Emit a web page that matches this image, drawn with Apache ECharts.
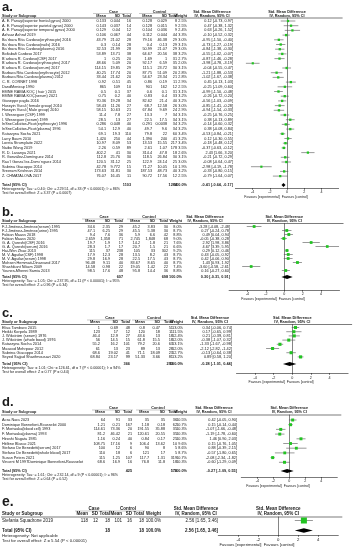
<!DOCTYPE html>
<html><head><meta charset="utf-8">
<script src="https://cdn.jsdelivr.net/npm/echarts@6/dist/echarts.min.js"></script>
<style>html,body{margin:0;padding:0;background:#fff}#c{width:357px;height:550px}</style>
</head><body><div id="c"></div>
<script>
// ---------- Panel a ----------
const aStudy = ["A. E. Panayi(superior frontal gyrus) 2000","A. E. Panayi(superior parietal gyrus) 2000","A. E. Panayi(superior temporal gyrus) 2000","Azhaar Ashraf 2019","Ba´rbara Rita Cardoso(erythrocyte) 2016","Ba´rbara Rita Cardoso(nails) 2016","Ba´rbara Rita Cardoso(plasma) 2016","Boltabafi Cardoso 2017","B´arbara R. Cardoso(CSF) 2017","B´arbara R. Cardoso(erythrocytes) 2017","B´arbara R. Cardoso(serum) 2017","Barbara Rita Cardoso(erythrocyte) 2012","Barbara Rita Cardoso(plasma) 2012","C. R. CORNET 1998","DandMenirap 1990","EMNE RABIA KOÇ ( hair ) 2015","EMNE RABIA KOÇ(serum) 2021","Giuseppe paglia 2016","Huseyin Vural ( female group) 2010","Huseyin Vural ( Male group) 2010","I. Wesseguer (CSF) 1999","I. Wesseguer (serum) 1999","InSneCollattos-Picot(erythrocyte) 1996","InSneCollattos-Picot(plasma) 1996","Katarzyna Socha 2021","Larry Baum 2010","Loreta Strumylaite 2022","Naibo Wang 2019","R. D. Lasanya 2021","R. González-Domínguez 2014","Rau´l Gonza´lez-Domı´nguez 2014","Sabrina Giacoppo 2014","Sreeram Krishnan 2014","Z. CHMATALOVA 2017"];
const aCaseMean = ["0.133","0.143","0.129","0.106","43.79","0.3","32.53","53.89","1","48.66","114.15","40.25","33.44","0.92","865","0.5","0.75","70.36","58.43","58.15","11.4","28.5","0.286","54.1","69.1","1,420","10.97","2.26","402.2","112.8","120.5","42.78","173.63","76.07"];
const aCaseSD = ["0.044","0.037","0.04","0.067","21.02","0.14","21.99","13.71","0.25","5.09","19.85","17.74","21.62","0.51","109","0.1","0.2","19.28","11.26","10.63","7.8","13","0.048","12.9","19.3","250","8.09","0.59","41","25.76","31.12","9.772","31.81","16.45"];
const aCaseN = [16,14,12,44,28,28,28,38,20,20,29,20,20,45,10,37,40,34,27,21,27,27,40,40,110,44,53,89,30,30,25,15,30,11];
const aCtrlMean = ["0.128","0.128","0.104","0.112","79.16","0.4","50.99","64.67","1.69","92.17","115.1","87.75","54.67","0.86","901","0.6","0.83","82.62","68.7","67.84","13.3","22.5","0.291","49.7","79.8","1,390","13.53","2.61","314.4","118.5","122.9","71.27","187.53","90.72"];
const aCtrlSD = ["0.029","0.015","0.036","0.044","46.38","0.13","21.07","20.56","1","6.59","23.72","51.09","23.34","0.19","162","0.1","0.4","21.4","12.58","9.69","7","17.5","0.0038","9.6","22","240","15.55","1.07","47.8","26.84","24.14","10.05","48.73","17.56"];
const aCtrlN = [8,9,9,44,29,29,29,38,31,35,30,20,21,11,12,31,33,40,26,24,34,34,34,34,60,41,217,178,18,30,25,10,40,12];
const aWeight = [2.5,2.5,2.4,3.3,3.0,3.1,3.0,3.2,2.7,2.0,3.1,2.8,2.8,2.9,2.5,3.1,3.2,3.2,3.0,2.9,3.1,3.1,3.2,3.2,3.4,3.2,3.4,3.5,2.6,3.1,3.0,1.9,3.2,2.5];
const aSMD = [0.12,0.47,0.63,-0.10,-0.95,-0.73,-0.84,-0.55,-0.87,-3.98,-0.04,-1.21,-1.02,0.45,-0.25,-0.99,-0.26,-0.56,-0.85,-0.94,-0.25,0.38,-0.14,0.38,-0.53,0.12,-0.18,-0.37,2.43,-0.21,-0.08,-2.98,-0.33,-0.79];
const aLo = [-0.73,-0.38,-0.26,-0.52,-1.50,-1.27,-1.38,-1.02,-1.46,-4.78,-0.55,-1.88,-1.67,-0.13,-1.09,-1.50,-0.72,-1.03,-1.41,-1.54,-0.76,-0.13,-0.60,-0.08,-0.84,-0.30,-0.48,-0.63,1.66,-0.72,-0.64,-4.19,-0.80,-1.64];
const aHi = [0.97,1.32,1.52,0.32,-0.40,-0.19,-0.30,-0.07,-0.28,-3.19,0.47,-0.53,-0.38,1.03,0.60,-0.48,0.20,-0.09,-0.28,-0.33,0.25,0.89,0.32,0.84,-0.21,0.55,0.12,-0.12,3.20,0.29,0.47,-1.78,0.15,0.07];
const aTotal = [1103,1284,-0.41,-0.64,-0.17];
const aHet = "Heterogeneity: Tau² = 0.40; Chi² = 229.51, df = 33 (P < 0.00001); I² = 86%";
const aTest = "Test for overall effect: Z = 3.37 (P = 0.0007)";

// ---------- Panel b ----------
const bStudy = ["F.J.Jiménez-Jiménez(serum) 1995","F.J.Jiménez-Jiménez(urine) 1995","Fabian Maass 2018","Fabian Maass 2020","G. A. Qureshi(CSF) 2016","G. A. Qureshi(serum) 2016","Hai-Wen Zhao 2013","M. V. Aguilar(CSF) 1998","M. V. Aguilar(serum) 1998","Mohsen Hemmati-Dinarvand 2017","Shashikant Nikam 2009","Younes-Mhenni Samia 2013"];
const bCaseMean = ["34.6","47.1","9.4","2,659","19.7","28.3","115","17.9","29.8","96.48","14.58","98.5"];
const bCaseSD = ["2.35","6.25","7.6","1,358","1.9","1.7","37","12.3","16.9","9.11","0.98","17.6"];
const bCaseN = [29,29,36,71,17,17,238,28,28,40,22,48];
const bCtrlMean = ["45.2","45.5","5.9","2,745","14.2","20.7","105","13.5","22.5","83.67","19.05","95.8"];
const bCtrlSD = ["3.83","5.38","6.6","1,848","1.8","1.5","33","8.2","17.5","8.65","1.42","14.4"];
const bCtrlN = [30,30,42,68,21,21,302,43,43,40,22,36];
const bWeight = [8.0,8.7,8.8,9.0,7.6,6.6,9.2,8.7,8.7,8.7,7.4,8.8];
const bSMD = [-3.28,0.27,0.49,-0.05,2.92,4.67,0.29,0.43,0.42,1.43,-3.60,0.16];
const bLo = [-4.08,-0.24,0.04,-0.38,1.98,3.39,0.12,-0.05,-0.06,0.93,-4.58,-0.27];
const bHi = [-2.48,0.78,0.94,0.28,3.86,5.95,0.46,0.92,0.90,1.92,-2.61,0.60];
const bTotal = [607,698,0.30,-0.31,0.91];
const bHet = "Heterogeneity: Tau² = 1.05; Chi² = 237.95, df = 11 (P < 0.00001); I² = 95%";
const bTest = "Test for overall effect: Z = 0.96 (P = 0.34)";

// ---------- Panel c ----------
const cStudy = ["Elisa Tamburo 2015","Heikki Korpela 1989","J. Wikström (serum) 1976","J. Wikström (whole bood) 1976","Katarzyna Socha 2014","Masood Mehrpour 2012","Sabrina Giacoppo 2014","Seyed Sajjad Sharifmousavi 2020"];
const cCaseMean = ["1","123","46.4","56","55.2","61","68.6","68.84"];
const cCaseSD = ["0.69","17","12.9","14.5","16.2","13","19.02","23.17"];
const cCaseN = [48,12,27,15,101,23,41,99];
const cCtrlMean = ["0.8","120","43.6","61.8","79.2","89","71.1","51.33"];
const cCtrlSD = ["0.47","18","13","15.5","20.6","13","18.09","3.66"];
const cCtrlN = [51,11,18,18,63,28,23,81];
const cWeight = [13.0,11.5,12.4,12.0,13.1,12.0,12.7,13.2];
const cSMD = [0.34,0.17,0.21,-0.38,-1.33,-2.12,-0.13,0.89];
const cLo = [-0.06,-0.65,-0.39,-1.07,-1.67,-2.82,-0.64,0.58];
const cHi = [0.74,0.99,0.81,0.32,-0.98,-1.42,0.38,1.20];
const cTotal = [366,293,-0.28,-1.01,0.44];
const cHet = "Heterogeneity: Tau² = 1.01; Chi² = 126.61, df = 7 (P < 0.00001); I² = 94%";
const cTest = "Test for overall effect: Z = 0.77 (P = 0.44)";

// ---------- Panel d ----------
const dStudy = ["Acsa Nara 2023","Dominique Bonnefont-Rousselot 2000","F. Moriwaka(blood cell) 1993","F. Moriwaka(plasma) 1993","Hiroshi Nagata 1985","Hélène Blasco 2021","Stefano De Benedetti(serum) 2017","Stefano De Benedetti(whole blood) 2017","Susan Peters 2021","Vincent M 1997Dominique Bonnefont-Rousselot"];
const dCaseMean = ["64","1.21","114.61","81.2","1.16","108.75","100","110","115","68.6"];
const dCaseSD = ["91","0.21","73.36","46.42","0.24","17.16","12","18","1.25","16.9"];
const dCaseN = [33,167,20,21,40,9,6,6,107,16];
const dCtrlMean = ["35","1.18","191.55","120.61","0.84","106.4","90","121","117.7","76.8"];
const dCtrlSD = ["35","0.18","35.88","20.55","0.17","13.62","8","17","1.31","11.8"];
const dCtrlN = [36,62,35,35,25,10,5,5,319,18];
const dWeight = [10.5,10.7,10.3,10.3,10.3,9.6,8.6,8.7,10.7,10.3];
const dSMD = [0.42,0.15,-1.07,-1.19,1.46,0.15,0.88,-0.57,-2.08,-0.60];
const dLo = [-0.05,-0.14,-1.66,-1.78,0.90,-0.76,-0.39,-1.80,-2.34,-1.29];
const dHi = [0.90,0.44,-0.48,-0.60,2.03,1.05,2.15,0.65,-1.82,0.09];
const dTotal = [425,570,-0.27,-1.09,0.55];
const dHet = "Heterogeneity: Tau² = 1.61; Chi² = 232.14, df = 9 (P < 0.00001); I² = 96%";
const dTest = "Test for overall effect: Z = 0.64 (P = 0.52)";

// ---------- Panel e ----------
const eStudy = ["Stefania Squadrone 2019"];
const eCaseMean = ["118"]; const eCaseSD = ["12"]; const eCaseN = [18];
const eCtrlMean = ["101"]; const eCtrlSD = ["16"]; const eCtrlN = [18];
const eWeight = [100.0];
const eSMD = [2.56]; const eLo = [1.65]; const eHi = [3.46];
const eTotal = [18,18,2.56,1.65,3.46];
const eHet = "Heterogeneity: Not applicable";
const eTest = "Test for overall effect: Z = 5.54 (P < 0.00001)";

const tickValues = [-4,-2,0,2,4];

// ---------- layout (positions only) ----------
const panels = [
 {lab:"a.", study:aStudy, cm:aCaseMean, csd:aCaseSD, cn:aCaseN, tm:aCtrlMean, tsd:aCtrlSD, tn:aCtrlN, w:aWeight, smd:aSMD, lo:aLo, hi:aHi, tot:aTotal, het:aHet, test:aTest,
  L:{label:7, h1:11.5, h2:15.5, line:18, r0:21, step:4.7, tot:185, het:189, test:193, axis:188, fs:3.8, cols:[106,120,131,152,167,177,187,233], ciHdr:212, zero:287, unit:8.6, fav:276}},
 {lab:"b.", study:bStudy, cm:bCaseMean, csd:bCaseSD, cn:bCaseN, tm:bCtrlMean, tsd:bCtrlSD, tn:bCtrlN, w:bWeight, smd:bSMD, lo:bLo, hi:bHi, tot:bTotal, het:bHet, test:bTest,
  L:{label:212, h1:217, h2:221, line:223.5, r0:226.5, step:4, tot:277, het:281, test:285, axis:290, fs:3.8, cols:[95,110,123,140,155,168,182,230], ciHdr:205, zero:284.3, unit:9.2, fav:273}},
 {lab:"c.", study:cStudy, cm:cCaseMean, csd:cCaseSD, cn:cCaseN, tm:cCtrlMean, tsd:cCtrlSD, tn:cCtrlN, w:cWeight, smd:cSMD, lo:cLo, hi:cHi, tot:cTotal, het:cHet, test:cTest,
  L:{label:313, h1:318, h2:322, line:324.5, r0:327.5, step:4.2, tot:364, het:368, test:372, axis:373, fs:3.9, cols:[100,118,130,145,160,173,183,232], ciHdr:210, zero:292.3, unit:9.3, fav:281}},
 {lab:"d.", study:dStudy, cm:dCaseMean, csd:dCaseSD, cn:dCaseN, tm:dCtrlMean, tsd:dCtrlSD, tn:dCtrlN, w:dWeight, smd:dSMD, lo:dLo, hi:dHi, tot:dTotal, het:dHet, test:dTest,
  L:{label:402, h1:408, h2:412, line:415, r0:420, step:4.7, tot:471, het:475, test:479, axis:477, fs:3.8, cols:[105,120,132,149,165,177,187,237], ciHdr:214, zero:289.3, unit:8.0, fav:278}},
 {lab:"e.", study:eStudy, cm:eCaseMean, csd:eCaseSD, cn:eCaseN, tm:eCtrlMean, tsd:eCtrlSD, tn:eCtrlN, w:eWeight, smd:eSMD, lo:eLo, hi:eHi, tot:eTotal, het:eHet, test:eTest,
  L:{label:502, h1:509, h2:514, line:517, r0:520.5, step:5, tot:530.5, het:535.5, test:540.5, axis:535, fs:4.5, cols:[88,98,110,122,132,144,161,218], ciHdr:196, zero:278.3, unit:10, fav:257}}
];

const FONT = "'Liberation Sans', Arial, sans-serif";
const INK = '#1a1a1a';
const G = [];
function txt(x, y, s, fs, align, bold) {
  G.push({type:'text', x:x, y:y, silent:true,
    style:{text:s, font:(bold?'bold ':'')+fs+'px '+FONT, fill:INK, align:align||'left', textAlign:align||'left', verticalAlign:'middle', textVerticalAlign:'middle'}});
}
function hline(x1, x2, y, color, w) {
  G.push({type:'line', silent:true, shape:{x1:x1,y1:y,x2:x2,y2:y}, style:{stroke:color||'#555', lineWidth:w||0.6}});
}
const fmt = v => v.toFixed(2);
const ciStr = (m,l,h) => fmt(m)+" ["+fmt(l)+", "+fmt(h)+"]";

const grids=[], xAxes=[], yAxes=[], series=[];
panels.forEach((p, gi) => {
  const L = p.L, fs = L.fs, c = L.cols, n = p.study.length;
  txt(2, L.label, p.lab, gi===4?14:13, 'left', true);
  // header row 1
  txt((c[0]-10+c[2])/2, L.h1, "Case", fs, 'center', true);
  txt((c[3]-10+c[5])/2, L.h1, "Control", fs, 'center', true);
  hline(c[0]-13, c[2]+1, L.h1+2, '#777', 0.4);
  hline(c[3]-13, c[5]+1, L.h1+2, '#777', 0.4);
  txt(L.ciHdr, L.h1, "Std. Mean Difference", fs, 'center', true);
  txt(L.zero, L.h1, "Std. Mean Difference", fs, 'center', true);
  // header row 2
  txt(2, L.h2, "Study or Subgroup", fs, 'left', true);
  ["Mean","SD","Total","Mean","SD","Total","Weight"].forEach((h,k)=>txt(c[k], L.h2, h, fs, 'right', true));
  txt(L.ciHdr, L.h2, "IV, Random, 95% CI", fs, 'center', true);
  txt(L.zero, L.h2, "IV, Random, 95% CI", fs, 'center', true);
  hline(1, L.zero + 6*L.unit + 4, L.line, '#444', 0.7);
  // rows
  for (let i=0;i<n;i++){
    const y = L.r0 + i*L.step;
    txt(2, y, p.study[i], fs, 'left', false);
    [p.cm[i],p.csd[i],String(p.cn[i]),p.tm[i],p.tsd[i],String(p.tn[i]),p.w[i].toFixed(1)+"%"].forEach((v,k)=>txt(c[k], y, v, fs, 'right', false));
    txt(c[7], y, ciStr(p.smd[i],p.lo[i],p.hi[i]), fs, 'right', false);
  }
  // total
  txt(2, L.tot, "Total (95% CI)", fs, 'left', true);
  txt(c[2], L.tot, String(p.tot[0]), fs, 'right', true);
  txt(c[5], L.tot, String(p.tot[1]), fs, 'right', true);
  txt(c[6], L.tot, "100.0%", fs, 'right', true);
  txt(c[7], L.tot, ciStr(p.tot[2],p.tot[3],p.tot[4]), fs, 'right', true);
  txt(2, L.het, p.het, fs*0.95, 'left', false);
  txt(2, L.test, p.test, fs*0.95, 'left', false);
  txt(L.fav, L.axis+9.5, "Favours [experimental]  Favours [control]", fs*0.92, 'center', false);

  // forest grid
  const left = L.zero - 6*L.unit, width = 12*L.unit;
  const ymin = -(L.r0 - L.line)/L.step, ymax = ymin + (L.axis - L.line)/L.step;
  const totIdx = (L.tot - L.r0)/L.step;
  grids.push({left:left, top:L.line, width:width, height:L.axis-L.line, containLabel:false});
  xAxes.push({type:'value', gridIndex:gi, min:-6, max:6, interval:2, position:'bottom',
    axisLine:{onZero:false, lineStyle:{color:'#222', width:0.6}},
    axisTick:{show:true, length:1.8, customValues:tickValues, lineStyle:{color:'#222', width:0.6}},
    axisLabel:{customValues:tickValues, fontSize:fs*0.95, color:INK, margin:2.5, fontFamily:FONT},
    splitLine:{show:false}});
  yAxes.push({type:'value', gridIndex:gi, inverse:true, min:ymin, max:ymax,
    axisLine:{show:true, onZero:true, lineStyle:{color:'#333', width:0.6}},
    axisTick:{show:false}, axisLabel:{show:false}, splitLine:{show:false}});
  const sq = w => gi===4 ? 6 : 1.6 + 0.42*Math.sqrt(w);
  series.push({type:'custom', xAxisIndex:gi, yAxisIndex:gi, silent:true, clip:false,
    data:p.smd.map((v,i)=>[v,p.lo[i],p.hi[i],i,p.w[i]]),
    encode:{x:[0,1,2], y:3},
    renderItem:(params, api)=>{
      const yv = api.value(3);
      const m = api.coord([api.value(0), yv]), l = api.coord([api.value(1), yv]), h = api.coord([api.value(2), yv]);
      const s = sq(api.value(4));
      return {type:'group', children:[
        {type:'line', shape:{x1:l[0],y1:m[1],x2:h[0],y2:m[1]}, style:{stroke:'#555', lineWidth:0.6}},
        {type:'rect', shape:{x:m[0]-s/2,y:m[1]-s/2,width:s,height:s}, style:{fill:'#22c322'}}
      ]};
    }});
  series.push({type:'custom', xAxisIndex:gi, yAxisIndex:gi, silent:true, clip:false,
    data:[[p.tot[2],p.tot[3],p.tot[4],totIdx]],
    encode:{x:[0,1,2], y:3},
    renderItem:(params, api)=>{
      const yv = api.value(3);
      const m = api.coord([api.value(0), yv]), l = api.coord([api.value(1), yv]), h = api.coord([api.value(2), yv]);
      const hd = gi===4 ? 2.2 : 1.9;
      return {type:'polygon', shape:{points:[[l[0],m[1]],[m[0],m[1]-hd],[h[0],m[1]],[m[0],m[1]+hd]]}, style:{fill:'#000'}};
    }});
});

const chart = echarts.init(document.getElementById('c'), null, {renderer:'canvas'});
chart.setOption({animation:false, backgroundColor:'#fff', grid:grids, xAxis:xAxes, yAxis:yAxes, series:series, graphic:{elements:G}});
</script></body></html>
